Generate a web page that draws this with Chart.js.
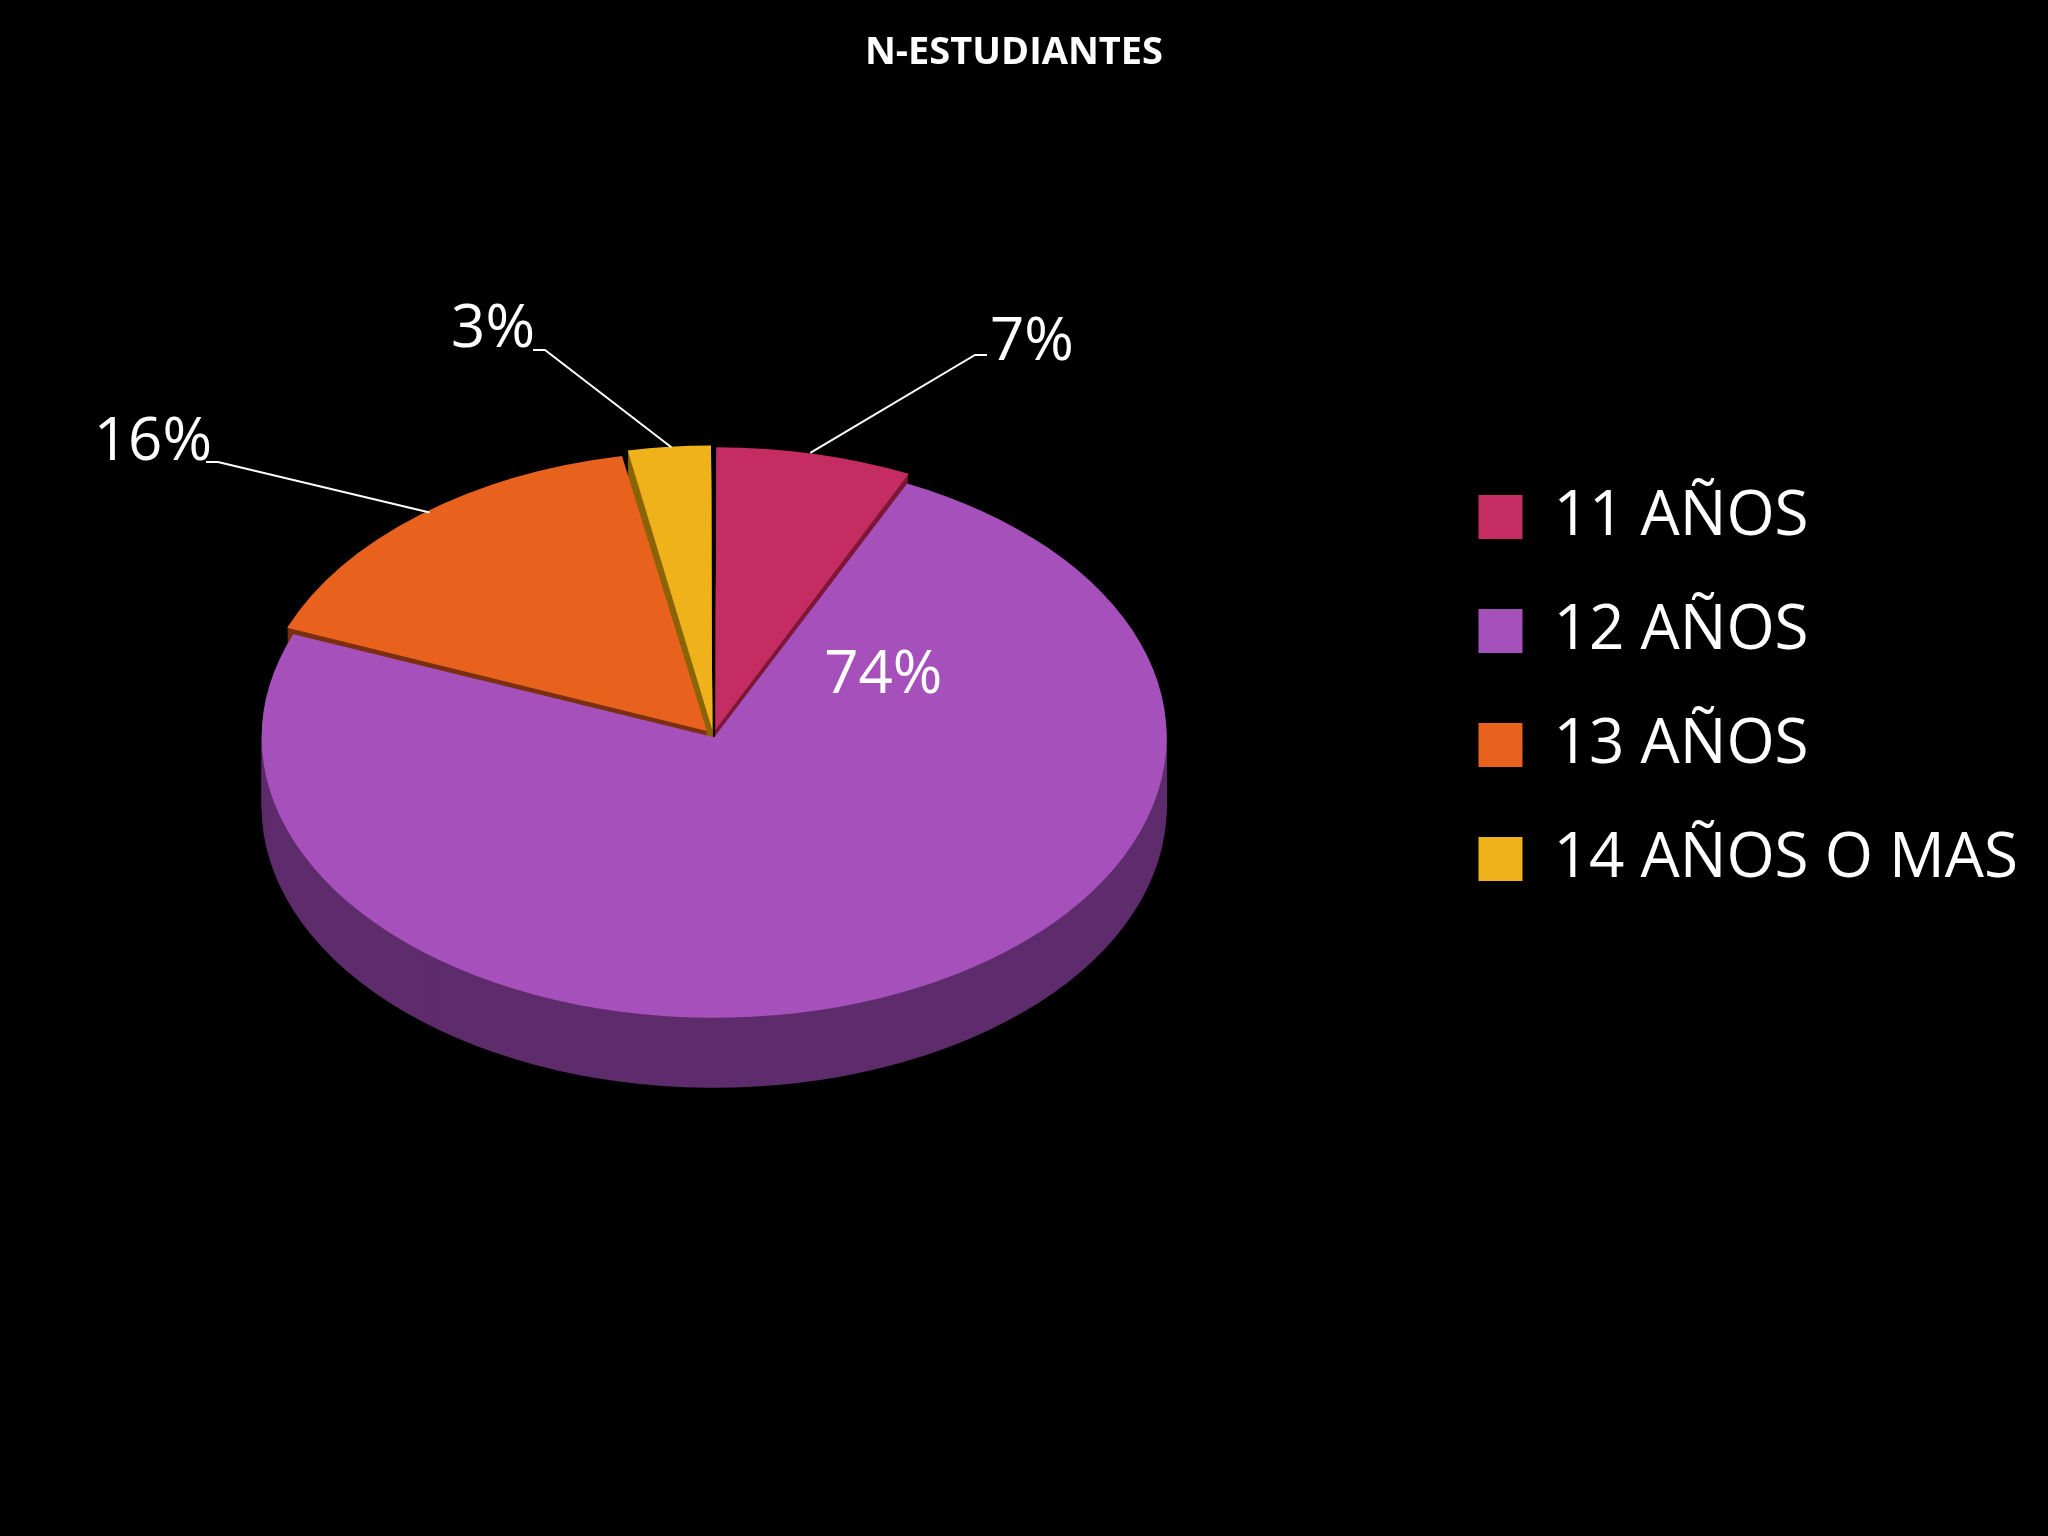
<!DOCTYPE html>
<html>
<head>
<meta charset="utf-8">
<script src="https://cdn.jsdelivr.net/npm/chart.js@4"></script>
<style>
  html, body { margin: 0; background: #000; }
</style>
</head>
<body>
<canvas id="pieChart" width="2048" height="1536"></canvas>
<script>
const labels = ["11 AÑOS", "12 AÑOS", "13 AÑOS", "14 AÑOS O MAS"];
const values = [7, 74, 16, 3];
const colors = ["#c42c62", "#a650bb", "#e8611d", "#f0b21a"];
const sideColors = ["#7e1638", "#5e2c6c", "#7a3010", "#8a6408"];

const SQUASH = 0.62;
const DEPTH = 70;

function tilt(chart) {
  const a = chart.getDatasetMeta(0).data[0];
  return { cx: a.x, cy: a.y };
}

// fake 3D: squash the pie and draw a darker side below it
const pie3d = {
  id: "pie3d",
  beforeDatasetsDraw(chart) {
    const ctx = chart.ctx;
    const { cx, cy } = tilt(chart);
    ctx.save();
    ctx.translate(cx, cy);
    ctx.scale(1, SQUASH);
    ctx.translate(-cx, -cy);
    const arcs = chart.getDatasetMeta(0).data;
    for (let d = DEPTH; d > 0; d -= 2) {
      ctx.save();
      ctx.translate(0, d / SQUASH);
      arcs.forEach((arc, i) => {
        const bg = arc.options.backgroundColor;
        arc.options.backgroundColor = sideColors[i];
        arc.draw(ctx);
        arc.options.backgroundColor = bg;
      });
      ctx.restore();
    }
  },
  afterDatasetsDraw(chart) {
    chart.ctx.restore();
  }
};

const pctLabels = {
  id: "pctLabels",
  afterDraw(chart) {
    const ctx = chart.ctx;
    const { cx, cy } = tilt(chart);
    const arcs = chart.getDatasetMeta(0).data;
    ctx.save();
    ctx.font = "60px 'Open Sans'";
    ctx.fillStyle = "#fff";
    ctx.strokeStyle = "#fff";
    ctx.lineWidth = 2;
    arcs.forEach((arc, i) => {
      const mid = (arc.startAngle + arc.endAngle) / 2;
      const off = arc.options.offset || 0;
      const ox = Math.cos(mid) * off, oy = Math.sin(mid) * off;
      const txt = values[i] + "%";
      if (i === 1) {
        ctx.textAlign = "center";
        ctx.textBaseline = "middle";
        ctx.fillText(txt, cx + 170, cy - 60);
        return;
      }
      const px = cx + ox + Math.cos(mid) * arc.outerRadius * 0.9;
      const py = cy + (oy + Math.sin(mid) * arc.outerRadius * 0.95) * SQUASH;
      const ex = {0: [975, 355], 2: [218, 462], 3: [545, 350]}[i];
      const tx = {0: [990, 343], 2: [212, 443], 3: [535, 330]}[i];
      ctx.beginPath();
      ctx.moveTo(px, py);
      ctx.lineTo(ex[0], ex[1]);
      ctx.lineTo(i === 0 ? ex[0] + 12 : ex[0] - 12, ex[1]);
      ctx.stroke();
      ctx.textBaseline = "middle";
      ctx.textAlign = i === 0 ? "left" : "right";
      ctx.fillText(txt, tx[0], tx[1]);
    });
    ctx.restore();
  }
};

new Chart(document.getElementById("pieChart"), {
  type: "pie",
  data: {
    labels: labels,
    datasets: [{
      data: values,
      backgroundColor: colors,
      borderWidth: 0,
      offset: [40, 10, 40, 40],
      radius: 450
    }]
  },
  options: {
    responsive: false,
    animation: false,
    devicePixelRatio: 1,
    layout: { padding: { top: 0, bottom: 160, left: 0, right: 20 } },
    plugins: {
      title: {
        display: true,
        text: "N-ESTUDIANTES",
        color: "#fff",
        font: { family: "'Open Sans'", size: 38, weight: "bold" },
        padding: { top: 30, bottom: 20 }
      },
      legend: {
        position: "right",
        labels: {
          color: "#fff",
          font: { family: "'Open Sans'", size: 62 },
          boxWidth: 44,
          boxHeight: 44,
          padding: 52
        }
      },
      tooltip: { enabled: false }
    }
  },
  plugins: [pie3d, pctLabels]
});
</script>
</body>
</html>
